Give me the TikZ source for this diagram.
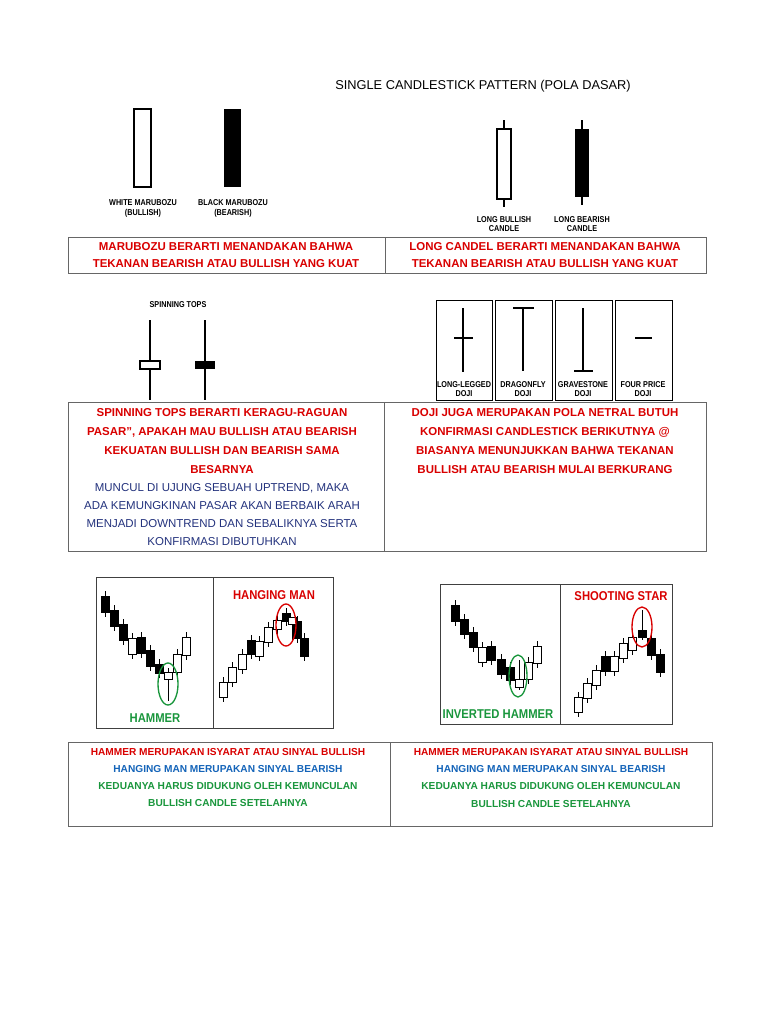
\documentclass[tikz,border=0pt]{standalone}
\usepackage{fontspec}
\setmainfont{Liberation Sans}
\begin{document}
\begin{tikzpicture}[x=0.75pt,y=-0.75pt,
  box/.style={draw=black!60,line width=0.6pt},
  rtxt/.style={font=\bfseries\fontsize{8.6}{10}\selectfont,text=red!85!black},
  btxt/.style={font=\fontsize{8.6}{10}\selectfont,text={rgb,255:red,35;green,50;blue,125}},
  stxt/.style={font=\bfseries\fontsize{7.6}{9}\selectfont},
  lab/.style={font=\bfseries\fontsize{6.4}{7.4}\selectfont,align=center,inner sep=0pt,xscale=0.85},
  pic/.style={draw=black!75,line width=0.7pt},
  bigl/.style={font=\bfseries\fontsize{9.6}{10}\selectfont,inner sep=0pt,xscale=0.88}]
\definecolor{cblue}{RGB}{20,100,185}
\definecolor{cgreen}{RGB}{25,150,60}
\useasboundingbox (0,0) rectangle (768,1024);
\fill[white] (0,0) rectangle (768,1024);
\node[font=\fontsize{9.6}{10}\selectfont] (title) at (483,86) {SINGLE CANDLESTICK PATTERN (POLA DASAR)};
% marubozu
\draw[line width=0.8pt] (134,109) rectangle (151,187);
\fill (224,109) rectangle (241,187);
\node[lab] (wm) at (143,208) {WHITE MARUBOZU\\(BULLISH)};
\node[lab] (bm) at (233,208) {BLACK MARUBOZU\\(BEARISH)};
% long candles
\draw[line width=0.8pt] (504,120)--(504,129) (504,199)--(504,207);
\draw[line width=0.8pt] (497,129) rectangle (511,199);
\draw[line width=0.8pt] (582,120)--(582,205);
\fill (575,129) rectangle (589,197);
\node[lab] (lbc) at (504,224) {LONG BULLISH\\CANDLE};
\node[lab] (lbe) at (582,224) {LONG BEARISH\\CANDLE};
% row1 table
\draw[box] (68,237) rectangle (385,273) (385,237) rectangle (706,273);
\node[rtxt,align=center] (t1) at (226,255) {MARUBOZU BERARTI MENANDAKAN BAHWA\\[3pt]TEKANAN BEARISH ATAU BULLISH YANG KUAT};
\node[rtxt,align=center] (t2) at (545,255) {LONG CANDEL BERARTI MENANDAKAN BAHWA\\[3pt]TEKANAN BEARISH ATAU BULLISH YANG KUAT};
% spinning tops
\node[lab] (sp) at (178,305) {SPINNING TOPS};
\draw[line width=0.8pt] (150,320)--(150,361) (150,369)--(150,400) (140,361) rectangle (160,369);
\draw[line width=0.8pt] (205,320)--(205,400);
\fill (195,361) rectangle (215,369);
% doji
\foreach \a/\b in {436/492,495/552,555/612,615/672}{\draw[line width=0.6pt] (\a,300) rectangle (\b,400);}
\draw[line width=0.8pt] (463,308)--(463,372) (454,338)--(473,338);
\draw[line width=0.8pt] (523,308)--(523,371) (513,308)--(534,308);
\draw[line width=0.8pt] (583,308)--(583,371) (574,371)--(593,371);
\draw[line width=0.8pt] (635,338)--(652,338);
\node[lab] (d1) at (464,389) {LONG-LEGGED\\DOJI};
\node[lab] (d2) at (523,389) {DRAGONFLY\\DOJI};
\node[lab] (d3) at (583,389) {GRAVESTONE\\DOJI};
\node[lab] (d4) at (643,389) {FOUR PRICE\\DOJI};
% row2 table
\draw[box] (68,402) rectangle (706,551) (384,402)--(384,551);
\node[rtxt,align=center] (t3) at (222,441) {SPINNING TOPS BERARTI KERAGU-RAGUAN\\[4.25pt]PASAR'', APAKAH MAU BULLISH ATAU BEARISH\\[4.25pt]KEKUATAN BULLISH DAN BEARISH SAMA\\[4.25pt]BESARNYA};
\node[btxt,align=center] (t4) at (222,515) {MUNCUL DI UJUNG SEBUAH UPTREND, MAKA\\[3.5pt]ADA KEMUNGKINAN PASAR AKAN BERBAIK ARAH\\[3.5pt]MENJADI DOWNTREND DAN SEBALIKNYA SERTA\\[3.5pt]KONFIRMASI DIBUTUHKAN};
\node[rtxt,align=center] (t5) at (545,441) {DOJI JUGA MERUPAKAN POLA NETRAL BUTUH\\[4.25pt]KONFIRMASI CANDLESTICK BERIKUTNYA @\\[4.25pt]BIASANYA MENUNJUKKAN BAHWA TEKANAN\\[4.25pt]BULLISH ATAU BEARISH MULAI BERKURANG};
% charts
\draw[pic] (96,577) rectangle (333,728) (213,577)--(213,728);
\draw[pic] (440,584) rectangle (672,724) (560,584)--(560,724);
\foreach \x/\t/\b/\f in {105/596/612/1,114/610/626/1,123/624/640/1,132/638/654/0,141/637/653/1,150/650/666/1,159/664/673/1,177/654/672/0,186/637/655/0,
 223/682/697/0,232/667/682/0,242/654/669/0,251/640/654/1,259/641/656/0,268/627/642/0,277/620/629/0,286/613/621/1,297/621/638/1,304/638/656/1,
 455/605/621/1,464/619/634/1,473/632/647/1,482/647/662/0,491/646/660/1,501/659/674/1,510/667/680/1,528/662/679/0,537/646/663/0,
 578/697/712/0,587/683/698/0,596/670/685/0,605/656/671/1,614/656/671/0,623/643/658/0,632/637/650/0,651/638/655/1,660/654/672/1}{
 \draw[line width=0.7pt] (\x,\t-5)--(\x,\b+5);
 \ifnum\f=1 \filldraw[line width=0.5pt] (\x-4,\t) rectangle (\x+4,\b); \else \filldraw[fill=white,line width=0.7pt] (\x-4,\t) rectangle (\x+4,\b); \fi}
% hammer family
\draw[line width=0.7pt] (168,668)--(168,701); \filldraw[fill=white,line width=0.7pt] (164,672) rectangle (172,679);
\draw[line width=0.7pt] (292,617)--(292,640); \filldraw[fill=white,line width=0.7pt] (288,617) rectangle (296,624);
\draw[line width=0.7pt] (519,660)--(519,690); \filldraw[fill=white,line width=0.7pt] (515,679) rectangle (523,687);
\draw[line width=0.7pt] (642,610)--(642,640); \filldraw[line width=0.5pt] (638,630) rectangle (646,637);
\draw[cgreen,line width=1pt] (168,684) ellipse [x radius=10,y radius=21];
\draw[red!85!black,line width=1pt] (286,625) ellipse [x radius=10,y radius=21];
\draw[cgreen,line width=1pt] (518,676) ellipse [x radius=9,y radius=21];
\draw[red!85!black,line width=1pt] (642,627) ellipse [x radius=10,y radius=20];
\node[bigl,text=cgreen] (hm) at (155,718) {HAMMER};
\node[bigl,text=red!85!black] (hg) at (274,595) {HANGING MAN};
\node[bigl,text=cgreen] (ih) at (498,714) {INVERTED HAMMER};
\node[bigl,text=red!85!black] (ss) at (621,596) {SHOOTING STAR};
% row3 table
\draw[box] (68,742) rectangle (712,826) (390,742)--(390,826);
\node[stxt,text=red!85!black] (r1) at (228,752) {HAMMER MERUPAKAN ISYARAT ATAU SINYAL BULLISH};
\node[stxt,text=cblue] (r2) at (228,769) {HANGING MAN MERUPAKAN SINYAL BEARISH};
\node[stxt,text=cgreen] (r3) at (228,786) {KEDUANYA HARUS DIDUKUNG OLEH KEMUNCULAN};
\node[stxt,text=cgreen] (r4) at (228,803) {BULLISH CANDLE SETELAHNYA};
\node[stxt,text=red!85!black] (s1) at (551,752) {HAMMER MERUPAKAN ISYARAT ATAU SINYAL BULLISH};
\node[stxt,text=cblue] (s2) at (551,769) {HANGING MAN MERUPAKAN SINYAL BEARISH};
\node[stxt,text=cgreen] (s3) at (551,786) {KEDUANYA HARUS DIDUKUNG OLEH KEMUNCULAN};
\node[stxt,text=cgreen] (s4) at (551,804) {BULLISH CANDLE SETELAHNYA};
\end{tikzpicture}
\end{document}
